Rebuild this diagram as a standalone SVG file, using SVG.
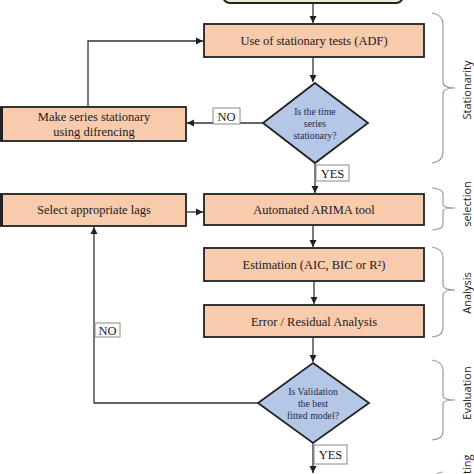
<svg xmlns="http://www.w3.org/2000/svg" width="474" height="474" viewBox="0 0 474 474">
<style>
.box{fill:#f8cbad;stroke:#222;stroke-width:1.8}
.dia{fill:#b4c7e7;stroke:#222;stroke-width:1.8}
.t{font-family:"Liberation Serif",serif;font-size:12.5px;fill:#1a1a1a;text-anchor:middle}
.dt{font-family:"Liberation Serif",serif;font-size:9.8px;fill:#1f2d4a;text-anchor:middle}
.lb{fill:#fff;stroke:#888;stroke-width:1}
.lt{font-family:"Liberation Serif",serif;font-size:12.5px;fill:#1a1a1a;text-anchor:middle}
.ln{fill:none;stroke:#333;stroke-width:1.3}
.br{fill:none;stroke:#9a9a9a;stroke-width:1.2}
.st{font-family:"Open Sans","Liberation Sans",sans-serif;font-size:11px;fill:#222;text-anchor:middle}
</style>
<defs>
<marker id="ah" markerWidth="8" markerHeight="8" refX="7" refY="4" orient="auto" markerUnits="userSpaceOnUse">
<path d="M0,0.5 L7,4 L0,7.5 Z" fill="#222"/>
</marker>
</defs>
<rect width="474" height="474" fill="#fff"/>
<g id="start"><rect x="223" y="-30" width="180" height="33" rx="7" fill="#e2efd9" stroke="#222" stroke-width="2"/></g>
<g id="adf"><rect class="box" x="204" y="24" width="220" height="33"/><text class="t" x="314" y="45">Use of stationary tests (ADF)</text></g>
<g id="q1"><polygon class="dia" points="315,83 368,123 315,163 263,123"/>
<text class="dt" x="315" y="115">Is the time</text><text class="dt" x="315" y="127">series</text><text class="dt" x="315" y="139">stationary?</text></g>
<g id="diff"><rect class="box" x="0" y="107" width="186" height="34"/><line x1="1.5" y1="107" x2="1.5" y2="141" stroke="#222" stroke-width="3"/>
<text class="t" x="94" y="121">Make series stationary</text><text class="t" x="94" y="136">using difrencing</text></g>
<g id="arima"><rect class="box" x="204" y="194" width="220" height="31"/><text class="t" x="314" y="214">Automated ARIMA tool</text></g>
<g id="lags"><rect class="box" x="0" y="194" width="186" height="32"/><line x1="1.5" y1="194" x2="1.5" y2="226" stroke="#222" stroke-width="3"/>
<text class="t" x="94" y="214">Select appropriate lags</text></g>
<g id="est"><rect class="box" x="204" y="248" width="220" height="33"/><text class="t" x="314" y="269">Estimation (AIC, BIC or R²)</text></g>
<g id="err"><rect class="box" x="204" y="305" width="220" height="32"/><text class="t" x="314" y="326">Error / Residual Analysis</text></g>
<g id="q2"><polygon class="dia" points="313,363 369,403 313,443 258,403"/>
<text class="dt" x="313" y="395">Is Validation</text><text class="dt" x="313" y="407">the best</text><text class="dt" x="313" y="419">fitted model?</text></g>
<g id="connectors">
<line class="ln" x1="313" y1="3" x2="313" y2="23" marker-end="url(#ah)"/>
<line class="ln" x1="313" y1="57" x2="313" y2="82" marker-end="url(#ah)"/>
<line class="ln" x1="263" y1="123" x2="187" y2="123" marker-end="url(#ah)"/>
<polyline class="ln" points="88,107 88,41 203,41" marker-end="url(#ah)"/>
<line class="ln" x1="315" y1="163" x2="315" y2="193" marker-end="url(#ah)"/>
<line class="ln" x1="186" y1="212" x2="203" y2="212" marker-end="url(#ah)"/>
<line class="ln" x1="313" y1="225" x2="313" y2="247" marker-end="url(#ah)"/>
<line class="ln" x1="314" y1="281" x2="314" y2="304" marker-end="url(#ah)"/>
<line class="ln" x1="313" y1="337" x2="313" y2="362" marker-end="url(#ah)"/>
<polyline class="ln" points="258,403 94,403 94,227" marker-end="url(#ah)"/>
<line class="ln" x1="313" y1="443" x2="313" y2="473" marker-end="url(#ah)"/>
</g>
<g id="labels">
<rect class="lb" x="213" y="108" width="27" height="16"/><text class="lt" x="226.5" y="121">NO</text>
<rect class="lb" x="316" y="165" width="33" height="16"/><text class="lt" x="332.5" y="178">YES</text>
<rect class="lb" x="95" y="323" width="25" height="14"/><text class="lt" x="107.5" y="335">NO</text>
<rect class="lb" x="314" y="445" width="33" height="19"/><text class="lt" x="330.5" y="459">YES</text>
</g>
<g id="phases">
<path class="br" d="M432,13 Q443,15 443,24 L443,82 Q443,88 455,88 Q443,88 443,94 L443,153 Q443,161 432,163"/>
<text class="st" transform="translate(471,90) rotate(-90)">Stationarity</text>
<path class="br" d="M432,188 Q443,189 443,194 L443,205 Q443,208 455,208 Q443,208 443,211 L443,225 Q443,229 432,230"/>
<text class="st" transform="translate(471,204) rotate(-90)">selection</text>
<path class="br" d="M432,247 Q443,249 443,257 L443,285 Q443,290 455,290 Q443,290 443,295 L443,328 Q443,336 432,337"/>
<text class="st" transform="translate(471,293) rotate(-90)">Analysis</text>
<path class="br" d="M432,360 Q443,362 443,370 L443,396 Q443,400 455,400 Q443,400 443,404 L443,432 Q443,439 432,440"/>
<text class="st" transform="translate(471,393) rotate(-90)">Evaluation</text>
<path class="br" d="M432,478 Q437,472 443,472"/>
<text class="st" style="text-anchor:start" transform="translate(471,474) rotate(-90)">ting</text>
</g>
</svg>
